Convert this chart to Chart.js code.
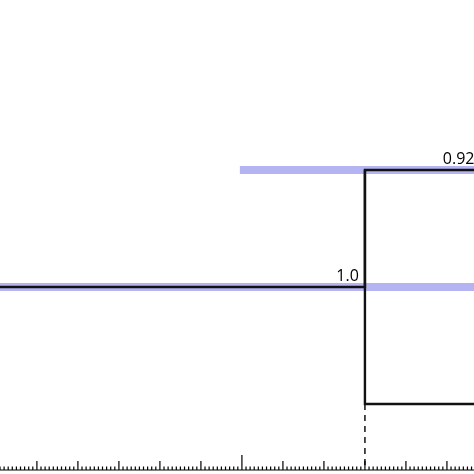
<!DOCTYPE html>
<html>
<head>
<meta charset="utf-8">
<style>html,body{margin:0;padding:0;background:#fff;overflow:hidden}</style>
<script src="https://cdn.jsdelivr.net/npm/chart.js@4/dist/chart.umd.min.js"></script>
</head>
<body>
<canvas id="c" width="474" height="474"></canvas>
<script>
// x range and y range of the visible crop
const xRange = [-5.9, 5.66];
const yRange = [0, 4.7];
const changeX = 3;
const baseLevel = 1.83;
const upperLevel = 3.0;
const lowerLevel = 0.66;
const bandStart = -0.05;
const labels = [{ text: "1.0", x: changeX - 0.15, y: baseLevel, align: "right" }, { text: "0.92", x: 4.9, y: upperLevel, align: "left" }];

const blue = "rgba(180,180,242,1)";

const axisPlugin = {
  id: "axisTicks",
  afterDatasetsDraw(chart) {
    const ctx = chart.ctx, xs = chart.scales.x, ys = chart.scales.y;
    const y0 = ys.getPixelForValue(yRange[0]);
    ctx.save();
    ctx.strokeStyle = "#000";
    ctx.lineWidth = 1.2;
    ctx.beginPath();
    ctx.moveTo(0, y0); ctx.lineTo(474, y0);
    for (let i = -60; i <= 57; i++) {
      const v = i / 10;
      const px = xs.getPixelForValue(v);
      let len = 3.5;
      if (i % 10 === 0) len = 9;
      if (i === 0) len = 15;
      ctx.moveTo(px, y0); ctx.lineTo(px, y0 - len);
    }
    ctx.stroke();
    // value labels
    ctx.fillStyle = "#000";
    ctx.font = "16px 'Open Sans', sans-serif";
    ctx.textBaseline = "bottom";
    labels.forEach(l => {
      ctx.textAlign = l.align;
      ctx.fillText(l.text, xs.getPixelForValue(l.x), ys.getPixelForValue(l.y) - 3);
    });
    ctx.restore();
  }
};

new Chart(document.getElementById("c"), {
  type: "scatter",
  data: {
    datasets: [
      { data: [{ x: bandStart, y: upperLevel }, { x: xRange[1], y: upperLevel }], borderColor: blue, borderWidth: 8, order: 2 },
      { data: [{ x: xRange[0], y: baseLevel }, { x: xRange[1], y: baseLevel }], borderColor: blue, borderWidth: 8, order: 2 },
      { data: [{ x: xRange[0], y: baseLevel }, { x: changeX, y: baseLevel }, { x: changeX, y: upperLevel }, { x: xRange[1], y: upperLevel }], borderColor: "#111", borderWidth: 2.4, order: 1 },
      { data: [{ x: changeX, y: upperLevel }, { x: changeX, y: lowerLevel }, { x: xRange[1], y: lowerLevel }], borderColor: "#111", borderWidth: 2.4, order: 1 },
      { data: [{ x: changeX, y: lowerLevel }, { x: changeX, y: yRange[0] }], borderColor: "#111", borderWidth: 1.5, borderDash: [6, 5], order: 1 }
    ].map(d => Object.assign(d, { showLine: true, pointRadius: 0, fill: false }))
  },
  options: {
    responsive: false,
    animation: false,
    layout: { padding: { top: 0, left: 0, right: 0, bottom: 4 } },
    plugins: { legend: { display: false }, tooltip: { enabled: false } },
    scales: {
      x: { type: "linear", min: xRange[0], max: xRange[1], display: false },
      y: { type: "linear", min: yRange[0], max: yRange[1], display: false }
    }
  },
  plugins: [axisPlugin]
});
</script>
</body>
</html>
